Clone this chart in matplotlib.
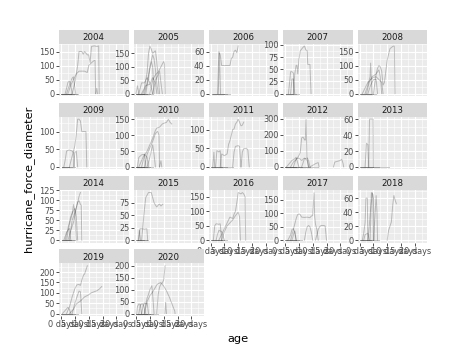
import numpy as np
import matplotlib
matplotlib.use("Agg")
import matplotlib.pyplot as plt
from matplotlib.ticker import MultipleLocator, FixedLocator

# ----------------------------------------------------------------
# DATA: hurricane force diameter vs storm age (days), one list per season
# each storm is a list of (age_days, diameter) points
# ----------------------------------------------------------------
YEARS = [2004, 2005, 2006, 2007, 2008, 2009, 2010, 2011, 2012,
         2013, 2014, 2015, 2016, 2017, 2018, 2019, 2020]

s2004 = [
    [(0, 0), (5.7, 0)], [(0, 0), (4.5, 0)], [(0.3, 0), (3.5, 0)], [(0, 0), (6, 0)],
    [(1.5, 0), (2, 20), (2.5, 40), (3, 45), (3.5, 30), (4, 0)],
    [(2, 0), (3, 30), (4, 55), (4.5, 60), (5, 20), (5.3, 0)],
    [(2.5, 0), (3.5, 30), (4.5, 50), (5.5, 70), (6.5, 80), (8.5, 80), (9.5, 75),
     (10, 100), (11, 110), (12, 118), (12.3, 118), (12.5, 0)],
    [(4, 0), (5, 40), (6, 100), (6.5, 150), (7.5, 150), (8, 140), (8.5, 150), (9.5, 138),
     (10, 138), (10.5, 110), (11, 168), (12, 170), (13, 168), (13.6, 170), (13.8, 0)],
    [(12.6, 0), (12.9, 20), (13.2, 0)],
]
s2005 = [
    [(0, 0), (5, 0)], [(0, 0), (4, 0)], [(0.5, 0), (6, 0)], [(0, 0), (3, 0)],
    [(0, 0), (0.5, 30), (1, 0)],
    [(2, 0), (3, 20), (4, 80), (4.5, 150), (5, 178), (5.5, 165), (6, 150), (7, 160),
     (7.5, 120), (8, 60), (8.5, 0)],
    [(3, 0), (4, 40), (5, 100), (6, 145), (6.5, 130), (7, 90), (7.5, 40), (8, 0)],
    [(5, 0), (6, 50), (7, 70), (8, 80), (9, 100), (10, 120), (10.3, 110), (10.5, 0)],
    [(1, 0), (2, 40), (3, 40), (4, 60), (5, 40), (6, 0)],
    [(2.5, 0), (3.5, 30), (5, 35), (6, 60), (7, 40), (7.5, 0)],
    [(6, 0), (7, 50), (8, 70), (8.5, 85), (9, 40), (9.5, 0)],
    [(3.5, 0), (4.5, 60), (5.5, 120), (6, 100), (6.5, 0)],
]
s2006 = [
    [(0.5, 0), (7, 0)], [(0.5, 0), (5, 0)], [(1, 0), (6, 0)],
    [(2.5, 0), (3, 60), (3.5, 55), (4, 40), (5, 40), (7, 40), (7.5, 50), (8, 52),
     (8.5, 60), (9, 62), (9.5, 58), (10, 68)],
    [(2.8, 0), (3.2, 58), (3.6, 0)],
]
s2007 = [
    [(0.3, 0), (5, 0)], [(0.3, 0), (4, 0)], [(0.5, 0), (3, 0)],
    [(1.2, 0), (1.5, 15), (2, 45), (2.5, 45), (3, 42), (3.2, 0)],
    [(2, 0), (2.5, 30), (3, 30), (3.5, 0)],
    [(3, 0), (3.5, 40), (4, 58), (4.3, 58), (4.6, 40), (5, 70), (5.5, 88), (6.5, 95),
     (7, 98), (7.5, 90), (8, 88), (8.2, 60), (9, 60), (9.4, 0)],
]
s2008 = [
    [(0.3, 0), (6, 0)], [(0.3, 0), (5, 0)], [(0.5, 0), (4, 0)],
    [(1, 0), (2, 20), (3, 40), (4, 50), (5, 58), (6, 60), (7, 50), (8, 40), (8.5, 0)],
    [(2, 0), (3, 30), (3.8, 60), (4, 110), (4.2, 60), (4.5, 0)],
    [(2.5, 0), (3.5, 40), (4.5, 60), (6, 70), (6.5, 90), (7, 100), (7.5, 95), (8, 80),
     (8.5, 30), (9, 40), (9.5, 80), (10, 120), (10.5, 140), (11, 160), (12, 168),
     (12.6, 170), (12.8, 0)],
    [(3, 0), (4, 30), (5, 50), (6, 50), (6.5, 0)],
    [(5, 0), (6, 70), (7, 85), (7.5, 60), (8, 0)],
]
s2009 = [
    [(0.3, 0), (5, 0)], [(0.3, 0), (4, 0)], [(0.5, 0), (3, 0)],
    [(1, 0), (1.5, 20), (2, 45), (3, 48), (4, 45), (4.5, 40), (4.8, 0)],
    [(3, 0), (4, 30), (5, 60), (5.5, 92), (6, 135), (6.5, 135), (7, 130), (7.5, 100),
     (8.5, 100), (9, 100), (9.3, 0)],
    [(4.5, 0), (5, 40), (5.5, 45), (6, 0)],
]
s2010 = [
    [(0, 0), (6, 0)], [(0, 0), (5, 0)], [(0.5, 0), (4, 0)], [(0, 0), (3, 0)],
    [(0.5, 0), (1, 30), (2, 38), (3, 40), (3.5, 0)],
    [(1, 0), (2, 20), (3, 40), (4, 30), (4.5, 0)],
    [(2, 0), (3, 35), (4, 50), (5, 70), (6, 90), (7, 115), (7.5, 122), (8.5, 125),
     (9.5, 135), (10, 137), (11, 140), (11.7, 150), (12.3, 140), (12.9, 135)],
    [(3, 0), (4, 40), (5, 60), (6, 80), (7, 105), (7.8, 112), (8.3, 100), (8.5, 0)],
    [(4, 0), (5, 30), (6, 70), (6.5, 40), (7, 0)],
    [(8.5, 0), (9, 20), (9.3, 0)],
]
s2011 = [
    [(0.3, 0), (8, 0)], [(0.3, 0), (6, 0)], [(0.5, 0), (4, 0)],
    [(0.8, 0), (1.2, 40), (1.5, 0)],
    [(1.8, 0), (2.3, 44), (3, 40), (3.5, 44), (3.8, 0)],
    [(3.5, 0), (4, 35), (5, 30), (6, 35), (6.5, 60), (7, 70), (7.5, 85), (8, 100),
     (8.5, 102), (9, 115), (9.5, 120), (10, 128), (10.5, 120), (11, 110), (11.5, 112),
     (12, 120)],
    [(8, 0), (8.5, 40), (9, 55), (10, 57), (10.5, 55), (11, 0)],
    [(11, 0), (11.5, 40), (12, 49), (13, 50), (13.5, 45), (14, 0)],
]
s2012 = [
    [(0, 0), (9, 0)], [(0, 0), (6, 0)], [(0.5, 0), (4, 0)], [(0, 0), (12, 0)],
    [(0.5, 0), (1.5, 20), (2.5, 40), (3.5, 50), (4, 60), (4.5, 30), (5, 0)],
    [(2, 0), (3, 30), (4, 45), (5, 70), (5.5, 90), (6, 180), (6.5, 185), (7, 170),
     (7.3, 165), (7.6, 296), (7.9, 60), (8.5, 40), (9, 0)],
    [(3, 0), (4, 50), (5, 55), (6, 40), (7, 55), (8, 40), (8.5, 0)],
    [(6, 0), (7, 50), (8, 55), (8.5, 0)],
    [(9, 0), (10, 10), (11, 20), (12, 27), (12.3, 0)],
    [(17.5, 0), (18, 30), (19, 35), (20, 40), (20.5, 48), (21, 20), (21.2, 0)],
]
s2013 = [
    [(0.3, 0), (10.6, 0)], [(0.3, 0), (7, 0)], [(0.5, 0), (5, 0)],
    [(2, 0), (2.5, 30), (3, 28), (3.3, 0)],
    [(3.3, 0), (3.6, 60), (4.5, 60), (4.9, 60), (5, 0)],
]
s2014 = [
    [(0.5, 0), (4.5, 0)], [(0.5, 0), (3.5, 0)], [(0.5, 0), (5, 0)],
    [(1, 0), (2, 20), (3, 30), (3.5, 0)],
    [(1.5, 0), (2.5, 30), (3.5, 60), (4.5, 75), (5, 80), (5.5, 60), (6, 0)],
    [(2, 0), (3, 40), (4, 65), (4.5, 90), (5, 70), (5.5, 0)],
    [(3, 0), (4, 50), (5, 70), (6, 95), (6.5, 100), (7, 90), (7.3, 88), (7.5, 0)],
    [(2.5, 0), (3.5, 25), (4.5, 45), (5.5, 80), (6.5, 110), (7, 120)],
]
s2015 = [
    [(0, 0), (4, 0)], [(0, 0), (3, 0)], [(0.5, 0), (4.2, 0)],
    [(1, 0), (1.4, 23), (2, 23), (3, 22), (3.9, 23), (4.2, 0)],
    [(2, 0), (2.5, 30), (3, 60), (3.5, 85), (4.5, 95), (5.5, 95), (6, 85), (6.5, 75),
     (7, 70), (7.5, 66), (8, 70), (8.5, 72), (9, 68), (9.7, 72)],
    [(0.8, 0), (1.2, 20), (1.6, 0)],
]
s2016 = [
    [(0.3, 0), (6, 0)], [(0.3, 0), (5, 0)], [(0.5, 0), (4, 0)],
    [(1, 0), (1.5, 50), (2, 57), (3, 55), (3.5, 57), (4, 0)],
    [(2, 0), (2.5, 20), (3, 34), (4, 30), (5, 0)],
    [(3, 0), (4, 20), (5, 40), (6, 60), (7, 80), (8, 75), (8.5, 90), (9, 100),
     (9.5, 130), (10, 165), (11, 160), (11.5, 165), (12, 160), (12.5, 150), (12.7, 0)],
    [(4, 0), (5, 30), (6, 50), (7, 60), (8, 70), (9, 85), (10, 97), (10.5, 80), (10.8, 0)],
]
s2017 = [
    [(0, 0), (5, 0)], [(0, 0), (4, 0)], [(0.5, 0), (6, 0)],
    [(1, 0), (2, 20), (2.5, 40), (3, 43), (3.5, 30), (4, 0)],
    [(2, 0), (3, 40), (3.5, 60), (4, 80), (4.5, 95), (5, 98), (5.5, 95), (6, 86),
     (7, 85), (8, 86), (9, 84), (9.5, 90), (10, 92), (10.5, 178), (10.7, 90), (11, 60),
     (11.5, 40), (12, 0)],
    [(2.5, 0), (3, 20), (3.5, 35), (4, 0)],
    [(7, 0), (7.5, 30), (8, 50), (8.5, 55), (9, 50), (9.5, 30), (10, 0)],
    [(11, 0), (11.5, 20), (12, 40), (12.5, 50), (13, 55), (14, 55), (14.5, 53), (15, 0)],
]
s2018 = [
    [(0.3, 0), (7, 0)], [(0.3, 0), (5, 0)], [(0.5, 0), (4, 0)],
    [(1, 0), (1.5, 10), (2, 25), (2.3, 60), (2.8, 60), (3, 0)],
    [(3, 0), (3.5, 20), (4, 45), (4.3, 68), (4.8, 65), (5, 0)],
    [(3.8, 0), (4.2, 50), (4.6, 68), (5, 60), (5.3, 0)],
    [(5, 0), (5.5, 30), (6, 64), (6.3, 40), (6.5, 0)],
    [(1.5, 0), (2, 8), (3, 10), (3.5, 0)],
    [(10, 0), (10.5, 14), (11, 20), (11.5, 26), (12, 50), (12.4, 64), (12.8, 58), (13.3, 52)],
]
s2019 = [
    [(0, 0), (6, 0)], [(0, 0), (4, 0)], [(0.5, 0), (5, 0)],
    [(0.5, 0), (1.5, 15), (2.5, 30), (3, 20), (3.5, 0)],
    [(2, 0), (3, 30), (4, 80), (5, 120), (5.7, 138), (6.5, 140), (7, 135), (7.5, 160),
     (8.1, 185), (8.5, 190), (9, 210), (9.5, 230)],
    [(3, 0), (4.5, 20), (5.5, 46), (7, 60), (8.5, 80), (10, 90), (11, 100), (12, 105),
     (13, 110), (14, 120), (14.7, 130)],
    [(4, 0), (5, 50), (6, 90), (6.5, 108), (7, 105), (7.5, 0)],
]
s2020 = [
    [(0, 0), (8, 0)], [(0, 0), (6, 0)], [(0, 0), (4, 0)], [(0.5, 0), (5, 0)],
    [(0.2, 0), (0.5, 30), (1, 40), (1.5, 38), (2, 0)],
    [(1, 0), (1.5, 35), (2, 40), (2.5, 40), (3, 20), (3.5, 0)],
    [(2, 0), (2.5, 30), (3, 45), (3.5, 40), (4, 45), (4.5, 0)],
    [(3, 0), (3.5, 40), (4, 65), (4.5, 80), (5, 100), (5.7, 117), (6, 80), (6.5, 0)],
    [(3, 0), (4, 50), (5, 75), (6, 90), (7, 110), (7.5, 120), (8, 125), (9, 130),
     (9.3, 124), (10, 140), (10.5, 200)],
    [(7.5, 0), (8, 80), (8.5, 110), (9, 125), (9.3, 124), (10, 115), (11, 95), (12, 70),
     (13, 40), (14, 10), (14.1, 0)],
    [(10.4, 0), (10.7, 48), (11, 0)],
]

SEASONS = [s2004, s2005, s2006, s2007, s2008, s2009, s2010, s2011, s2012,
           s2013, s2014, s2015, s2016, s2017, s2018, s2019, s2020]

# y break spacing per panel (free scales)
Y_STEP = [50, 50, 20, 25, 50, 50, 50, 50, 100, 20, 25, 25, 50, 50, 20, 50, 50]
X_BREAKS = [0, 5, 10, 15, 20]
X_LABELS = ["0 days", "5 days", "10 days", "15 days", "20 days"]

# ----------------------------------------------------------------
# LAYOUT (pixels of a 474x355 canvas)
# ----------------------------------------------------------------
W, H = 474, 355
COL_LEFT = [59, 134, 208.5, 283, 357.5]
PANEL_W = 69.5
ROW_TOP = 29.5
ROW_PITCH = 73.3
STRIP_H = 14
PANEL_H = 52.5

PANEL_BG = "#ebebeb"
STRIP_BG = "#d9d9d9"
TEXT_COL = "#4d4d4d"


def rect(left, top, w, h):
    return [left / W, 1 - (top + h) / H, w / W, h / H]


fig = plt.figure(figsize=(W / 100, H / 100), dpi=100)

n = len(YEARS)
for i, (year, storms) in enumerate(zip(YEARS, SEASONS)):
    r, c = divmod(i, 5)
    strip_top = ROW_TOP + r * ROW_PITCH
    left = COL_LEFT[c]

    # facet strip
    sax = fig.add_axes(rect(left, strip_top, PANEL_W, STRIP_H))
    sax.set_facecolor(STRIP_BG)
    sax.set_xticks([])
    sax.set_yticks([])
    for sp in sax.spines.values():
        sp.set_visible(False)
    sax.text(0.5, 0.45, str(year), ha="center", va="center", fontsize=6.2, color="#1a1a1a",
             transform=sax.transAxes)

    # panel
    ax = fig.add_axes(rect(left, strip_top + STRIP_H, PANEL_W, PANEL_H))
    ax.set_facecolor(PANEL_BG)
    for sp in ax.spines.values():
        sp.set_visible(False)

    ymax = 0
    for st in storms:
        a = [p[0] for p in st]
        v = [p[1] for p in st]
        ax.plot(a, v, color="black", alpha=0.22, lw=0.7, solid_joinstyle="miter")
        ymax = max(ymax, max(v))

    ax.set_xlim(-0.75, 24.4)
    ax.set_ylim(-0.05 * ymax, 1.05 * ymax)

    step = Y_STEP[i]
    ax.yaxis.set_major_locator(MultipleLocator(step))
    ax.yaxis.set_minor_locator(MultipleLocator(step / 2))
    ax.xaxis.set_major_locator(FixedLocator(X_BREAKS))
    ax.xaxis.set_minor_locator(MultipleLocator(2.5))
    ax.grid(which="major", color="white", lw=0.8)
    ax.grid(which="minor", color="white", lw=0.4)
    ax.set_axisbelow(True)

    ax.tick_params(axis="y", which="major", length=2, width=0.6, color="#333333",
                   labelsize=5.9, labelcolor=TEXT_COL, pad=1)
    ax.tick_params(which="minor", length=0)

    # x labels only where no panel sits below
    if i + 5 >= n:
        ax.set_xticklabels(X_LABELS)
        ax.tick_params(axis="x", which="major", length=2, width=0.6, color="#333333",
                       labelsize=5.9, labelcolor=TEXT_COL, pad=1)
    else:
        ax.tick_params(axis="x", which="major", length=0, labelbottom=False)

fig.text(29 / W, 1 - 179 / H, "hurricane_force_diameter", rotation=90, ha="center", va="center",
         fontsize=8.2, color="black")
fig.text(237.5 / W, 1 - 339 / H, "age", ha="center", va="center", fontsize=8.2, color="black")

fig.savefig("out.png", dpi=100)
